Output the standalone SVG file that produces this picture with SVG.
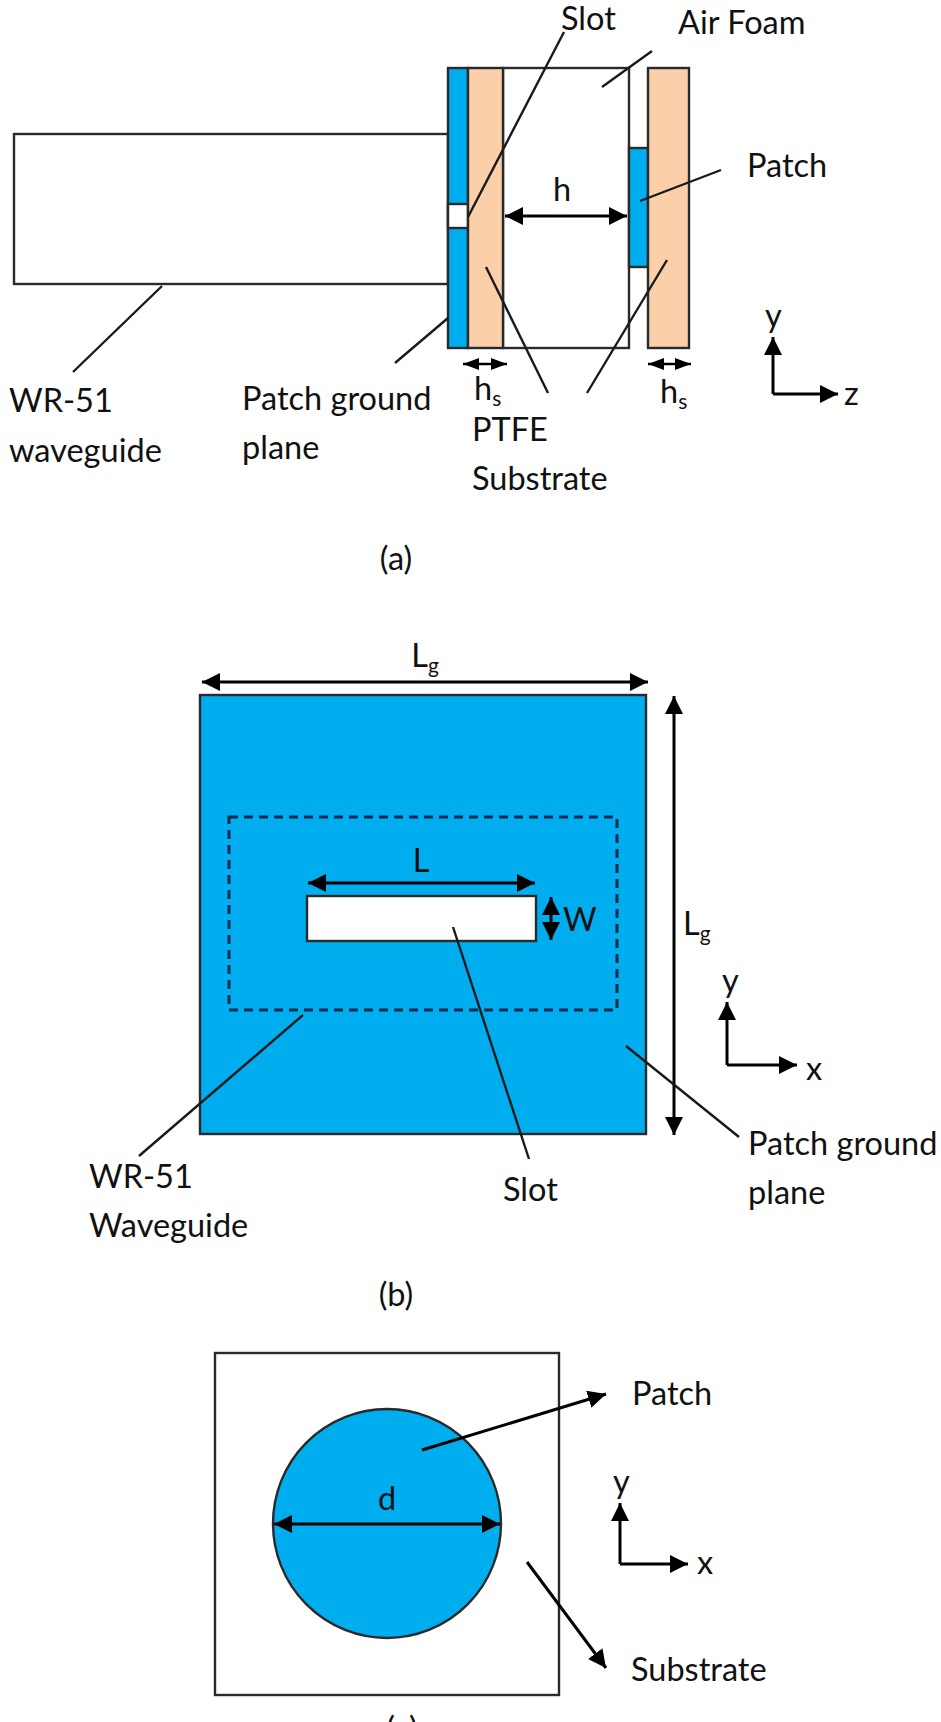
<svg xmlns="http://www.w3.org/2000/svg" width="941" height="1722" viewBox="0 0 941 1722">
<style>
text{font-family:"Lato","Liberation Sans",sans-serif;font-size:32.5px;fill:#111}
.m{text-anchor:middle}
.s{stroke:#2a2a2a;stroke-width:2.4}
.w{fill:#fff}.b{fill:#00adef}.o{fill:#fbcfa9}
.l{stroke:#1a1a1a;stroke-width:2.4;fill:none}
.a{stroke:#000;stroke-width:3;fill:none;marker-start:url(#h);marker-end:url(#h)}
.e{stroke:#000;stroke-width:3;fill:none;marker-end:url(#h)}
.t{stroke:#000;stroke-width:2.5;fill:none;marker-start:url(#h2);marker-end:url(#h2)}
.sub{font-size:21px}
</style>
<defs>
<marker id="h" markerUnits="userSpaceOnUse" viewBox="0 0 18 18" refX="18" refY="9" markerWidth="18" markerHeight="18" orient="auto-start-reverse"><path d="M0 0L18 9L0 18Z" fill="#000"/></marker>
<marker id="h2" markerUnits="userSpaceOnUse" viewBox="0 0 16 12" refX="16" refY="6" markerWidth="16" markerHeight="12" orient="auto-start-reverse"><path d="M0 0L16 6L0 12Z" fill="#000"/></marker>
</defs>
<rect width="941" height="1722" fill="#fff"/>

<g id="a-waveguide"><rect class="s w" x="14" y="134" width="434" height="150"/></g>
<g id="a-foam"><rect class="s w" x="503" y="68" width="126" height="280"/></g>
<g id="a-ground"><rect class="s b" x="448" y="68" width="20" height="280"/><rect class="s w" x="448" y="204" width="20" height="24"/></g>
<g id="a-substrate1"><rect class="s o" x="468" y="68" width="35" height="280"/></g>
<g id="a-patch"><rect class="s b" x="629" y="148" width="19" height="119"/></g>
<g id="a-substrate2"><rect class="s o" x="648" y="68" width="41" height="280"/></g>

<g id="b-ground"><rect class="s b" x="200" y="695" width="446" height="439"/></g>
<g id="b-waveguide"><rect x="229" y="817" width="388" height="193" fill="none" stroke="#0d2a4a" stroke-width="3" stroke-dasharray="9 6"/></g>
<g id="b-slot"><rect class="s w" x="307" y="896" width="229" height="45"/></g>

<g id="c-substrate"><rect class="s w" x="215" y="1353" width="344" height="342"/></g>
<g id="c-patch"><ellipse class="s b" cx="387" cy="1523.5" rx="114" ry="114.5"/></g>

<g id="connectors">
<path class="l" d="M564 32L468 217M652 51L602 87M721 170L640 201M486 267L548 393M667 260L587 393M448 318L395 363M162 286L73 372"/>
<path class="a" d="M505 216H627"/>
<path class="t" d="M463 364H507"/>
<path class="t" d="M648 364H691"/>
<path class="e" d="M773 394V337"/><path class="e" d="M773 394H838"/>
<path class="a" d="M202 682H648"/>
<path class="a" d="M674 696V1135"/>
<path class="a" d="M308 883H535"/>
<path class="a" d="M551 897V940"/>
<path class="l" d="M303 1015L139 1156M453 927L529 1159M626 1046L739 1137"/>
<path class="e" d="M727 1065V1002"/><path class="e" d="M727 1065H797"/>
<path class="a" d="M274 1524H500"/>
<path class="e" d="M422 1450L606 1394"/>
<path class="e" d="M527 1562L606 1668"/>
<path class="e" d="M620 1564V1503"/><path class="e" d="M620 1564H688"/>
</g>

<g id="labels">
<text x="561" y="30">Slot</text>
<text x="678" y="34">Air Foam</text>
<text x="747" y="177">Patch</text>
<text class="m" x="562" y="201">h</text>
<text x="9" y="412">WR-51</text>
<text x="9" y="462">waveguide</text>
<text x="242" y="410">Patch ground</text>
<text x="242" y="459">plane</text>
<text x="474" y="400">h<tspan class="sub" dy="6">s</tspan></text>
<text x="660" y="403">h<tspan class="sub" dy="6">s</tspan></text>
<text x="472" y="441">PTFE</text>
<text x="472" y="490">Substrate</text>
<text x="765" y="327">y</text>
<text x="844" y="405">z</text>
<text class="m" x="396" y="570">(a)</text>
<text class="m" x="425" y="667">L<tspan class="sub" dy="6">g</tspan></text>
<text x="683" y="935">L<tspan class="sub" dy="6">g</tspan></text>
<text class="m" x="421" y="872">L</text>
<text x="563" y="931">W</text>
<text x="722" y="992">y</text>
<text x="806" y="1080">x</text>
<text x="89" y="1188">WR-51</text>
<text x="89" y="1237">Waveguide</text>
<text x="503" y="1201">Slot</text>
<text x="748" y="1155">Patch ground</text>
<text x="748" y="1204">plane</text>
<text class="m" x="396" y="1306">(b)</text>
<text class="m" x="387" y="1510">d</text>
<text x="632" y="1405">Patch</text>
<text x="631" y="1681">Substrate</text>
<text x="613" y="1493">y</text>
<text x="697" y="1574">x</text>
<text class="m" x="402" y="1740">(c)</text>
</g>
</svg>
